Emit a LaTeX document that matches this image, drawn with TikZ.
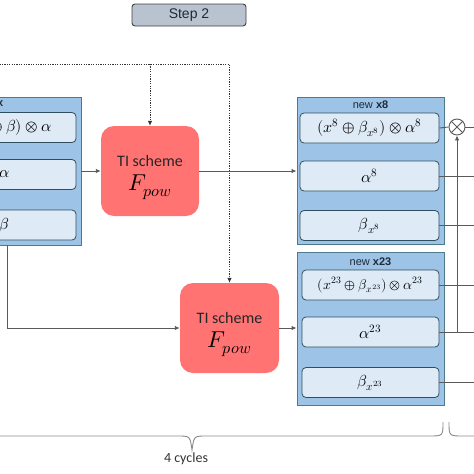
\documentclass[tikz,border=0pt]{standalone}
\usepackage{fontspec}
\usepackage{unicode-math}
\setmainfont{Carlito}
\setmathfont{Latin Modern Math}
\newfontfamily\arialf{Liberation Sans}
\usetikzlibrary{arrows.meta}
\definecolor{outerblue}{HTML}{9DC3E6}
\definecolor{outerborder}{HTML}{4E7A8E}
\definecolor{innerblue}{HTML}{DEEBF7}
\definecolor{innerborder}{HTML}{2F4F5F}
\definecolor{tipink}{HTML}{FF7373}
\definecolor{stepgray}{HTML}{B8C3CF}
\definecolor{linegray}{HTML}{5A5A5A}
\definecolor{bracegray}{HTML}{8A8A8A}
\definecolor{txtdark}{HTML}{1F2A3A}
\tikzset{
  outerbox/.style={draw=outerborder, fill=outerblue, line width=0.9pt, inner sep=0pt},
  innerbox/.style={draw=innerborder, fill=innerblue, line width=0.8pt, rounded corners=4pt, inner sep=0pt, minimum height=30pt, font=\fontsize{16}{18}\selectfont},
  tibox/.style={fill=tipink, rounded corners=13pt, inner sep=0pt, minimum width=98pt, minimum height=90pt},
  titext/.style={inner sep=0pt, font=\fontsize{16}{18}\selectfont, text=black!85},
  fpow/.style={inner sep=0pt, font=\fontsize{23}{25}\selectfont},
  conn/.style={draw=linegray, line width=0.9pt},
  arr/.style={conn, -{Latex[length=5pt,width=4.5pt]}},
  dotarr/.style={draw=black!80, line width=0.8pt, dash pattern=on 1.2pt off 1.2pt, -{Latex[length=5pt,width=4.5pt]}},
  boxtitle/.style={font=\arialf\fontsize{11}{12}\selectfont, text=txtdark, inner sep=0pt},
}
\begin{document}
\begin{tikzpicture}[x=1pt,y=-1pt]
\useasboundingbox (0,0) rectangle (474,474);
\clip (0,0) rectangle (474,474);

% Step label
\node[draw=black!75, fill=stepgray, line width=0.9pt, rounded corners=3pt, minimum width=114pt, minimum height=22pt, inner sep=0pt, font=\arialf\fontsize{14}{16}\selectfont, text=txtdark] (step) at (189,15) {Step 2};

% old x box (left, partly cut)
\node[outerbox, minimum width=147pt, minimum height=148pt] (old) at (7.5,171) {};
\node[boxtitle, anchor=east] (oldt) at (3.5,104) {\bfseries x};
\node[innerbox, minimum width=138pt] (o1) at (7,127.5) {};
\node[innerbox, minimum width=138pt] (o2) at (7,174.5) {};
\node[innerbox, minimum width=138pt] (o3) at (7,225) {};
\node[anchor=east, inner sep=0pt, font=\fontsize{16}{18}\selectfont] (o1t) at (52,127.5) {$(x\oplus\beta)\otimes\alpha$};
\node[anchor=east, inner sep=0pt, font=\fontsize{16}{18}\selectfont] (o2t) at (9.5,174.5) {$\alpha$};
\node[anchor=east, inner sep=0pt, font=\fontsize{16}{18}\selectfont] (o3t) at (9,225) {$\beta$};

% TI schemes
\node[tibox] (ti1) at (150,171) {};
\node[titext] (ti1a) at (150,161) {TI scheme};
\node[fpow] (ti1b) at (150,187) {$F_{pow}$};
\node[tibox, minimum width=99pt] (ti2) at (229.5,328) {};
\node[titext] (ti2a) at (229.5,318) {TI scheme};
\node[fpow] (ti2b) at (229.5,344) {$F_{pow}$};

% new x8 box
\node[outerbox, minimum width=147pt, minimum height=147pt] (x8) at (370.5,170.5) {};
\node[boxtitle] (x8t) at (370.5,105) {new \textbf{x8}};
\node[innerbox, minimum width=139pt] (a1) at (369.5,128) {$(x^{8}\oplus\beta_{x^{8}})\otimes\alpha^{8}$};
\node[innerbox, minimum width=139pt] (a2) at (369.5,176) {$\alpha^{8}$};
\node[innerbox, minimum width=139pt] (a3) at (369.5,225.5) {$\beta_{x^{8}}$};

% new x23 box
\node[outerbox, minimum width=147pt, minimum height=153pt] (x23) at (370.5,328.5) {};
\node[boxtitle] (x23t) at (370.5,262) {new \textbf{x23}};
\node[innerbox, minimum width=137pt, font=\fontsize{14}{16}\selectfont] (b1) at (370.5,285) {$(x^{23}\oplus\beta_{x^{23}})\otimes\alpha^{23}$};
\node[innerbox, minimum width=137pt] (b2) at (370.5,332) {$\alpha^{23}$};
\node[innerbox, minimum width=137pt] (b3) at (370.5,382.5) {$\beta_{x^{23}}$};

% otimes circle
\node[circle, draw=linegray, fill=white, line width=0.9pt, minimum size=16pt, inner sep=0pt] (ot) at (457,127) {};
\draw[conn] (ot.north west) -- (ot.south east) (ot.north east) -- (ot.south west);

% dotted control lines
\coordinate (dstart) at (-10,64);
\coordinate (dmid) at (150,64);
\draw[dotarr] (dstart) -| (ti2.north);
\draw[dotarr] (dmid) -- (ti1.north);

% data connectors
\draw[arr] (old.east) -- (ti1.west);
\draw[arr] (ti1.east) -- (x8.west |- ti1.east);
\draw[arr] (old.south) |- (ti2.west);
\draw[arr] (ti2.east) -- (x23.west |- ti2.east);

% right side outputs
\coordinate (r1) at (480,127);
\coordinate (r2) at (480,176);
\coordinate (r3) at (480,225.5);
\coordinate (r4) at (480,285);
\coordinate (r5) at (480,332);
\coordinate (r6) at (480,382.5);
\draw[conn] (a1.east) -- (ot.west);
\draw[conn] (ot.east) -- (r1);
\draw[conn] (a2.east) -- (r2);
\draw[conn] (a3.east) -- (r3);
\draw[conn] (b1.east) -- (r4);
\draw[conn] (b2.east) -- (r5);
\draw[conn] (b3.east) -- (r6);
\draw[arr] (ot.south |- b2.east) -- (ot.south);

% brace
\draw[draw=bracegray, line width=0.9pt]
  (-60,422) .. controls (-60,436) .. (-46,436) -- (178,436)
  .. controls (190,436) .. (192,450) .. controls (194,436) .. (206,436)
  -- (429,436) .. controls (443,436) .. (443,422);
\draw[draw=bracegray, line width=0.9pt]
  (449,422) .. controls (449,436) .. (463,436) -- (480,436);
\node[font=\fontsize{14}{16}\selectfont, text=black!80, inner sep=0pt] (cyc) at (186,459) {4 cycles};
\end{tikzpicture}
\end{document}
